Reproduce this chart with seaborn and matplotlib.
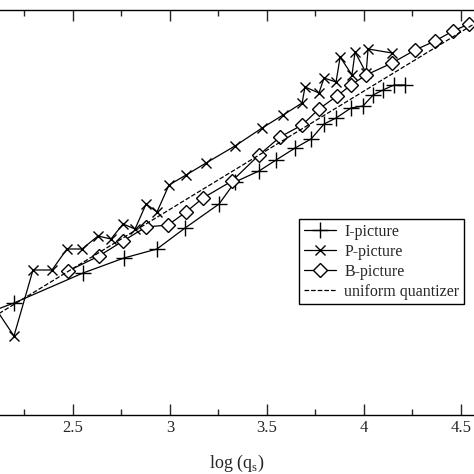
import matplotlib
matplotlib.use("Agg")
import matplotlib.pyplot as plt
import seaborn as sns
from matplotlib.ticker import MultipleLocator

sns.set_style("white")
plt.rcParams['font.family'] = ['Liberation Serif', 'DejaVu Serif']

i_x = [2.072, 2.196, 2.552, 2.763, 2.933, 3.078, 3.253, 3.335, 3.459, 3.547, 3.645, 3.727, 3.794, 3.856, 3.933, 3.995, 4.047, 4.098, 4.155, 4.212]
i_y = [103, 112, 142, 157, 166, 187, 211, 233, 244, 255, 267, 276, 291, 297, 307, 309, 320, 325, 330, 330]
p_x = [2.072, 2.196, 2.294, 2.392, 2.469, 2.547, 2.629, 2.696, 2.758, 2.820, 2.877, 2.933, 2.995, 3.083, 3.186, 3.335, 3.475, 3.583, 3.681, 3.696, 3.768, 3.794, 3.856, 3.877, 3.938, 3.954, 4.011, 4.021, 4.145]
p_y = [115, 79, 145, 145, 166, 166, 179, 176, 191, 186, 211, 203, 230, 240, 252, 269, 287, 300, 312, 328, 322, 337, 333, 358, 340, 363, 342, 366, 362]
b_x = [2.475, 2.634, 2.758, 2.877, 2.990, 3.083, 3.170, 3.320, 3.459, 3.567, 3.681, 3.768, 3.861, 3.933, 4.011, 4.145, 4.263, 4.366, 4.459, 4.542]
b_y = [144, 159, 174, 188, 190, 203, 217, 234, 260, 278, 290, 306, 319, 330, 340, 352, 365, 374, 384, 391]
u_x = [2.098, 4.567]
u_y = [99, 391]

fig = plt.figure(figsize=(4.74, 4.74), dpi=100)
ax = fig.add_axes([0, 59/474, 1, 405/474])
kw = dict(color='k', linewidth=0.9, sort=False, estimator=None, ax=ax)
sns.lineplot(x=i_x, y=i_y, marker='+', markersize=11, markeredgewidth=1, markeredgecolor='k', label='I-picture', **kw)
sns.lineplot(x=p_x, y=p_y, marker='x', markersize=7, markeredgewidth=1, markeredgecolor='k', label='P-picture', **kw)
sns.lineplot(x=b_x, y=b_y, marker='D', markersize=7, markerfacecolor='white', markeredgecolor='k', markeredgewidth=1, label='B-picture', **kw)
sns.lineplot(x=u_x, y=u_y, linestyle='--', label='uniform quantizer', **kw)

ax.set_xlim(2.124, 4.567)
ax.set_ylim(0, 405)
ax.xaxis.set_major_locator(MultipleLocator(0.5))
ax.xaxis.set_minor_locator(MultipleLocator(0.25))
ax.tick_params(axis='x', which='major', direction='in', length=8, top=True, bottom=True, labelsize=12, width=1)
ax.tick_params(axis='x', which='minor', direction='in', length=4, top=True, bottom=True, width=1)
ax.set_yticks([])
ax.xaxis.set_major_formatter(matplotlib.ticker.FuncFormatter(lambda v, p: f"{v:g}"))
for s in ['left', 'right']:
    ax.spines[s].set_visible(False)
for s in ['top', 'bottom']:
    ax.spines[s].set_color('k')
    ax.spines[s].set_linewidth(1)
ax.set_xlabel('log (q$_\\mathregular{s}$)', fontsize=13, labelpad=12)
leg = ax.legend(loc='upper left', bbox_to_anchor=(0.615, 0.504), fancybox=False, edgecolor='k', framealpha=1,
                fontsize=11.5, handlelength=2.0, borderpad=0.3, labelspacing=0.25, handletextpad=0.5)
leg.get_frame().set_linewidth(1)
fig.savefig('out.png', dpi=100)
